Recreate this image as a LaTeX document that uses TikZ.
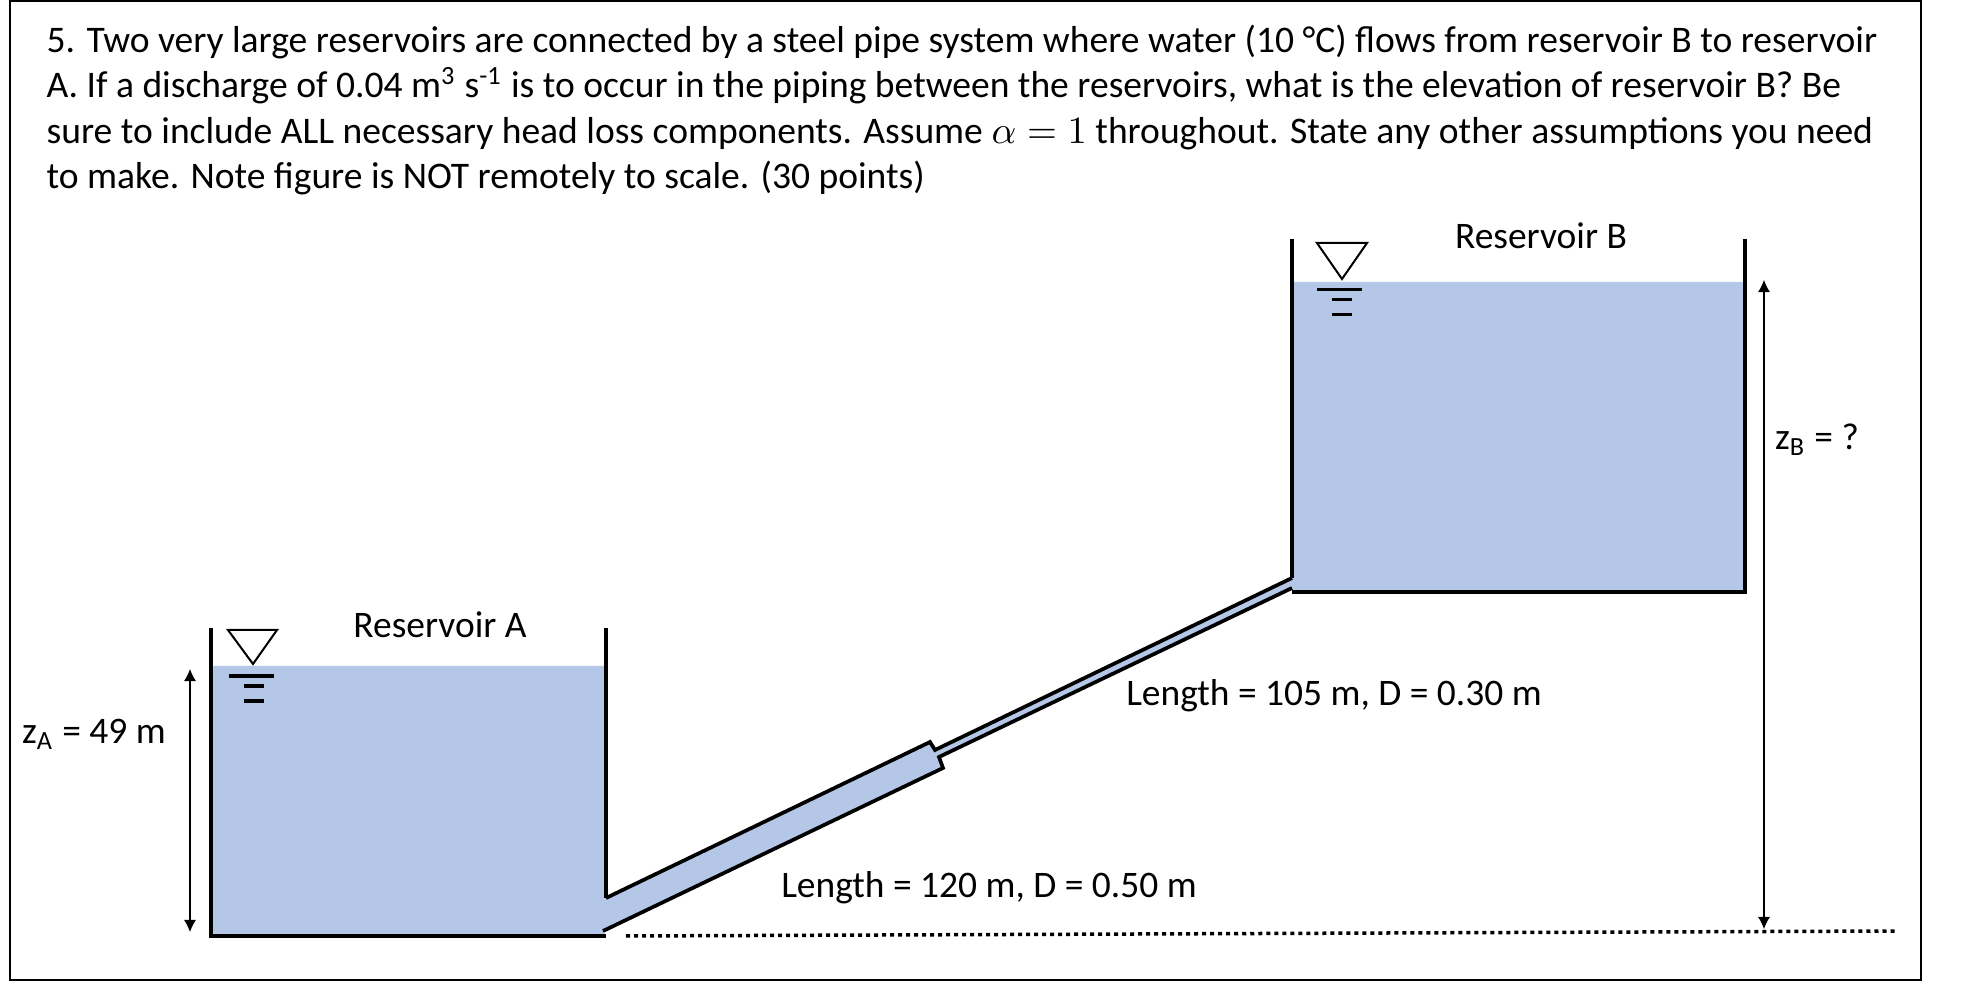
\documentclass[tikz,border=0pt]{standalone}
\usepackage{amsmath}
\usepackage{fontspec}
\setmainfont{Carlito}
\usetikzlibrary{arrows.meta}
\definecolor{waterblue}{HTML}{B4C7E7}
\tikzset{
  wall/.style={line width=0.042cm,line cap=butt},
  pipe/.style={line width=0.037cm},
  thinline/.style={line width=0.02cm},
  level/.style={line width=0.03cm},
  dim/.style={line width=0.011cm,{Latex[length=0.12cm,width=0.12cm]}-{Latex[length=0.12cm,width=0.12cm]}},
  question/.style={anchor=base west,font=\fontsize{10.68pt}{12.8pt}\selectfont,inner sep=0pt},
  label/.style={font=\fontsize{10.65pt}{12pt}\selectfont,inner sep=0pt}
}
\begin{document}
\begin{tikzpicture}[x=0.01cm,y=-0.01cm]
      \useasboundingbox (0,0) rectangle (1971,982);
      \draw [line width=0.025cm](10,1) rectangle (1921,980);

      \node [question] (line1) at (46,53) {5. Two very large reservoirs are connected by a steel pipe system where water (10 °C) flows from reservoir B to reservoir};
      \node [question] (line2) at (46,98) {A. If a discharge of 0.04 m\textsuperscript{3} s\textsuperscript{-1} is to occur in the piping between the reservoirs, what is the elevation of reservoir B? Be};
      \node [question] (line3) at (46,143.5) {sure to include ALL necessary head loss components. Assume $\alpha = 1$ throughout. State any other assumptions you need};
      \node [question] (line4) at (46,188.5) {to make. Note figure is NOT remotely to scale. (30 points)};

      % water
      \fill [waterblue](211,666) -- (606,666) -- (606,898) -- (930,742) -- (935,750) -- (1292,578) -- (1292,282) -- (1745,282) -- (1745,592) -- (1292,592) -- (1292,588) -- (939,757) -- (943,768) -- (603,931) -- (606,936) -- (211,936) -- cycle;

      % reservoir A
      \draw [wall](211,628) -- (211,936) -- (606,936);
      \draw [wall](606,628) -- (606,898);
      % pipes
      \draw [pipe](606,898) -- (930,742) -- (935,750) -- (1292,578);
      \draw [pipe](603,931) -- (943,768) -- (939,757) -- (1292,588);
      % reservoir B
      \draw [wall](1292,578) -- (1292,239);
      \draw [wall](1292,592) -- (1745,592) -- (1745,239);

      % water level marks
      \draw [thinline](228,630) -- (277,630) -- (253,664) -- cycle;
      \draw [level](229,676) -- (274,676);
      \draw [level](244,686) -- (264,686);
      \draw [level](244,701) -- (264,701);

      \draw [thinline](1317,243) -- (1367,243) -- (1342,279) -- cycle;
      \draw [level](1317,290) -- (1362,290);
      \draw [level](1332,300) -- (1352,300);
      \draw [level](1332,315) -- (1352,315);

      % datum
      \draw [line width=0.035cm,dash pattern=on 0.04cm off 0.04cm](626,936) -- (1895,931);

      % heights
      \coordinate (topA) at (190,669);
      \coordinate (botA) at (190,932);
      \coordinate (topB) at (1764,280);
      \coordinate (botB) at (1764,929);
      \draw [dim](topA) -- (botA);
      \draw [dim](topB) -- (botB);

      \node [label] (resA) at (440,625) {Reservoir A};
      \node [label] (resB) at (1541,236) {Reservoir B};
      \node [label] (zA) at (94,734) {z\textsubscript{A} = 49 m};
      \node [label] (zB) at (1817,440) {z\textsubscript{B} = ?};
      \node [label] (pipeS) at (1334,695.5) {Length = 105 m, D = 0.30 m};
      \node [label] (pipeL) at (989,887.5) {Length = 120 m, D = 0.50 m};
\end{tikzpicture}
\end{document}
